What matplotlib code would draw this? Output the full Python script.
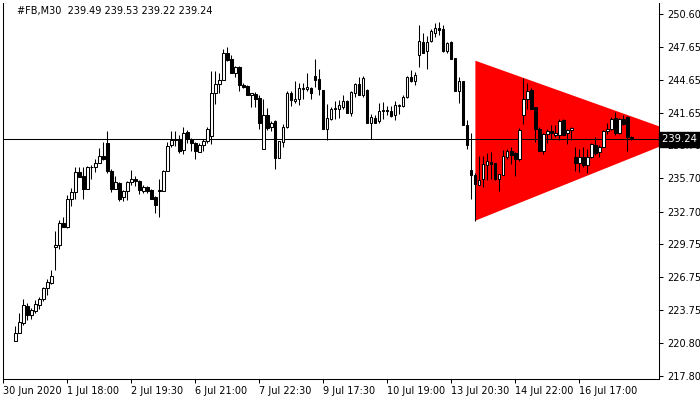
import matplotlib
matplotlib.use("Agg")
import matplotlib.pyplot as plt
import matplotlib.transforms as mtransforms
import numpy as np

# M30 candles (open, high, low, close)
opens = [221.01, 221.67, 222.58, 224.15, 223.30, 223.73, 224.27, 224.75, 225.78, 226.26,
         229.46, 229.71, 231.64, 231.34, 233.87, 234.48, 236.29, 235.93, 234.72, 236.71,
         236.71, 237.07, 237.74, 238.89, 236.41, 234.72, 235.32, 234.00, 234.60, 235.38,
         235.62, 235.44, 234.54, 234.90, 234.66, 234.05, 234.60, 234.60, 236.35, 238.70,
         239.18, 239.24, 238.28, 239.91, 239.24, 238.88, 238.10, 238.70, 239.06, 239.55,
         243.41, 244.26, 244.62, 247.10, 246.49, 245.28, 245.77, 244.20, 244.08, 243.23,
         243.35, 242.99, 238.40, 241.42, 240.33, 240.94, 237.55, 239.00, 240.33, 243.41,
         242.69, 242.87, 243.78, 243.84, 243.90, 244.98, 244.68, 243.71, 240.21, 241.12,
         242.02, 242.02, 242.20, 242.75, 241.66, 243.47, 244.26, 243.29, 243.71, 240.69,
         241.18, 240.87, 241.78, 241.90, 241.78, 241.42, 242.26, 242.26, 243.05, 244.86,
         244.56, 246.91, 248.06, 247.22, 248.12, 248.91, 249.33, 249.27, 247.22, 248.06,
         246.61, 243.65, 244.56, 240.51, 236.46, 235.98, 235.14, 235.62, 236.95, 237.19,
         237.07, 235.68, 236.05, 237.68, 238.16, 237.98, 237.50, 241.48, 242.87, 243.71,
         242.14, 240.21, 238.22, 239.73, 239.97, 239.67, 239.67, 241.00, 239.79, 240.09,
         237.62, 237.13, 237.62, 236.89, 237.62, 238.76, 238.10, 238.58, 239.97, 240.15,
         241.18, 239.79, 241.06, 241.30, 239.49]
highs = [222.34, 223.48, 224.75, 224.45, 223.97, 224.69, 224.93, 225.84, 226.56, 227.41,
         230.91, 231.94, 232.24, 234.17, 234.84, 236.77, 236.71, 236.77, 236.83, 236.95,
         237.44, 238.46, 239.01, 239.97, 236.53, 235.93, 235.38, 234.66, 235.44, 236.47,
         235.93, 235.56, 235.08, 235.02, 234.72, 234.11, 235.62, 236.47, 239.01, 239.97,
         239.97, 239.61, 240.33, 240.09, 239.36, 239.00, 238.88, 239.30, 240.33, 245.40,
         245.40, 245.22, 247.40, 247.58, 246.92, 245.89, 245.89, 244.32, 244.14, 243.41,
         243.53, 243.29, 242.87, 242.08, 240.88, 241.00, 239.12, 240.63, 243.65, 243.65,
         244.50, 244.32, 244.32, 245.22, 244.02, 246.49, 245.59, 243.71, 242.45, 242.20,
         242.75, 242.81, 243.29, 242.81, 243.59, 244.38, 244.92, 244.98, 243.77, 241.54,
         241.48, 242.56, 242.62, 242.26, 242.26, 242.75, 242.44, 243.29, 244.98, 245.52,
         245.34, 249.63, 248.85, 248.60, 249.27, 249.81, 249.87, 249.57, 248.06, 248.12,
         246.61, 244.92, 244.56, 240.99, 239.85, 236.17, 237.74, 237.74, 237.98, 238.10,
         237.13, 236.11, 238.28, 238.40, 238.52, 238.10, 240.27, 244.80, 244.32, 243.90,
         242.21, 240.33, 239.79, 240.21, 240.51, 240.57, 241.06, 241.06, 240.21, 240.33,
         238.58, 238.40, 238.58, 238.34, 238.94, 239.43, 238.70, 240.09, 240.76, 241.30,
         241.72, 241.18, 241.48, 241.36, 239.53]
lows = [221.01, 221.67, 222.40, 222.88, 223.00, 223.54, 223.91, 224.63, 225.11, 226.14,
        227.41, 229.28, 231.28, 231.22, 233.21, 233.87, 235.81, 233.87, 234.72, 235.62,
        236.29, 237.07, 237.38, 236.17, 234.48, 234.72, 233.63, 233.69, 233.75, 235.14,
        235.02, 234.30, 234.36, 234.42, 233.81, 232.54, 232.18, 234.60, 236.35, 238.52,
        238.64, 237.98, 237.92, 238.88, 238.22, 237.43, 238.10, 238.22, 238.94, 238.82,
        242.45, 243.41, 244.62, 246.31, 245.22, 244.86, 243.65, 243.90, 243.23, 242.14,
        242.14, 240.15, 238.40, 240.09, 239.97, 236.53, 237.55, 238.58, 240.27, 242.26,
        242.57, 242.32, 242.93, 243.65, 242.93, 244.02, 243.23, 240.21, 239.18, 241.00,
        241.12, 241.18, 241.96, 241.60, 241.36, 243.05, 243.29, 243.05, 240.69, 239.24,
        240.69, 240.75, 241.05, 241.42, 241.30, 240.99, 241.54, 242.14, 242.99, 244.44,
        244.13, 245.83, 247.09, 245.64, 248.06, 248.54, 248.66, 247.16, 247.09, 246.49,
        243.59, 242.50, 240.51, 238.34, 233.81, 231.88, 235.08, 234.96, 235.56, 235.68,
        235.56, 234.60, 235.98, 237.50, 237.01, 235.92, 237.31, 240.64, 241.96, 241.96,
        239.00, 238.16, 237.92, 238.88, 239.24, 239.43, 239.19, 239.61, 238.82, 239.19,
        236.35, 236.29, 236.77, 236.17, 237.56, 237.86, 237.68, 238.52, 239.73, 240.09,
        239.67, 239.73, 240.57, 238.22, 239.22]
closes = [221.67, 222.70, 224.21, 223.30, 223.79, 224.33, 224.75, 225.78, 226.32, 226.87,
          229.71, 231.64, 231.34, 233.87, 234.48, 236.29, 235.87, 234.72, 236.77, 236.77,
          237.07, 237.74, 237.50, 236.35, 234.78, 235.38, 233.87, 234.60, 235.38, 235.62,
          235.44, 234.66, 234.90, 234.60, 233.87, 233.27, 234.66, 236.35, 238.64, 239.18,
          239.24, 238.22, 239.79, 239.24, 238.88, 238.22, 238.70, 239.12, 240.15, 243.41,
          244.26, 244.62, 247.10, 246.43, 245.28, 245.77, 244.14, 243.96, 243.29, 243.41,
          242.93, 240.75, 241.42, 240.27, 240.75, 237.55, 239.06, 240.33, 243.41, 242.81,
          242.87, 243.90, 243.90, 243.96, 243.47, 244.62, 243.78, 240.21, 241.18, 242.02,
          242.08, 242.32, 242.69, 241.66, 243.53, 244.26, 243.29, 244.80, 240.75, 241.24,
          240.75, 241.78, 241.90, 241.78, 241.36, 242.32, 242.32, 243.05, 244.86, 244.50,
          245.10, 248.12, 247.09, 248.06, 249.03, 249.33, 249.15, 247.22, 248.00, 246.55,
          243.65, 244.56, 240.51, 238.76, 236.04, 235.20, 235.56, 237.01, 237.25, 237.01,
          235.68, 236.11, 237.74, 238.16, 237.80, 237.50, 240.09, 242.87, 243.59, 242.02,
          240.21, 238.22, 239.73, 239.97, 239.79, 239.79, 240.94, 239.67, 240.09, 240.27,
          237.13, 237.62, 236.89, 237.62, 238.82, 237.98, 238.58, 239.97, 240.15, 241.12,
          239.79, 241.06, 240.64, 239.49, 239.24]

bid = 239.24
title = "#FB,M30  239.49 239.53 239.22 239.24"

# triangle pattern: two left corners and the apex (bar index, price)
tri_bars = [115, 115, 167.7]
tri_prices = [246.37, 231.88, 239.55]

price_ticks = [250.60, 247.65, 244.65, 241.65, 238.70, 235.70, 232.70, 229.75, 226.75, 223.75, 220.80, 217.80]
time_tick_bars = [-3, 13, 29, 45, 61, 77, 93, 109, 125, 141]
time_labels = ["30 Jun 2020", "1 Jul 18:00", "2 Jul 19:30", "6 Jul 21:00", "7 Jul 22:30",
               "9 Jul 17:30", "10 Jul 19:00", "13 Jul 20:30", "14 Jul 22:00", "16 Jul 17:00"]

o = np.array(opens)
h = np.array(highs)
l = np.array(lows)
c = np.array(closes)
x = np.arange(len(o))

fig = plt.figure(figsize=(7, 4), dpi=100)
ax = fig.add_axes([3 / 700, 21 / 400, 656 / 700, 376 / 400])

ax.fill(tri_bars, tri_prices, color="#ff0000", lw=0, zorder=1)
ax.axhline(bid, color="black", lw=0.75, zorder=2)

ax.vlines(x, l, h, color="black", lw=0.75, zorder=3)
up = c >= o
body_bottom = np.minimum(o, c)
body_height = np.abs(c - o)
ax.bar(x, body_height, bottom=body_bottom, width=0.55,
       color=np.where(up, "white", "black"), edgecolor="black", lw=0.75, zorder=4)

ax.set_xlim(-3.1, 160.9)
ax.set_ylim(217.53, 251.60)

ax.yaxis.tick_right()
ax.set_yticks(price_ticks)
ax.set_yticklabels([f"{p:.2f}" for p in price_ticks])
ax.set_xticks(time_tick_bars)
ax.set_xticklabels(time_labels, ha="left")
ax.tick_params(axis="both", direction="out", length=3, width=0.75, labelsize=7, pad=2,
               colors="black")
ax.tick_params(axis="y", pad=3)

ax.spines["top"].set_visible(False)
for side in ["left", "right", "bottom"]:
    ax.spines[side].set_linewidth(0.75)

# current price box on the right scale (covers the 238.70 label, as in MT4)
trans = mtransforms.blended_transform_factory(ax.transAxes, ax.transData)
ax.text(1.004, bid, "239.24 ", transform=trans, color="white", fontsize=7.2, va="center",
        ha="left", clip_on=False, zorder=10,
        bbox=dict(boxstyle="square,pad=0.28", fc="black", ec="black"))

fig.text(17 / 700, 1 - 11 / 400, title, fontsize=7, va="center", ha="left")

fig.savefig("out.png", dpi=100, facecolor="white")
